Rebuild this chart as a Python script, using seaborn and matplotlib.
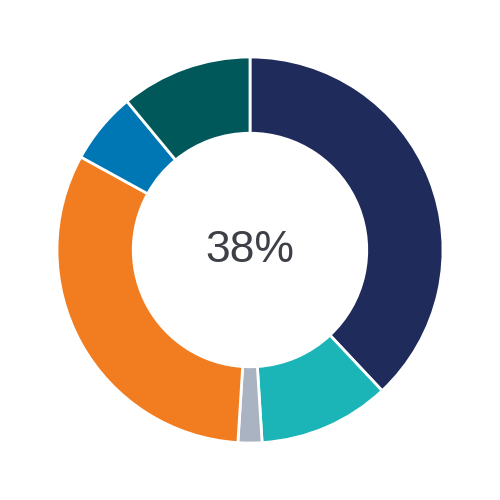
import matplotlib
matplotlib.use("Agg")
import matplotlib.pyplot as plt
import seaborn as sns

# segments, clockwise from 12 o'clock
labels = ["Navy", "Teal", "Gray", "Orange", "Blue", "Green"]
shares = [38, 11, 2, 32, 6, 11]
colors = ["#1e2b5b", "#1cb5b7", "#a9b3c1", "#f17d20", "#0077b5", "#00585a"]
center_label = "38%"

sns.set_style("white")
plt.rcParams["font.family"] = ["Liberation Sans", "DejaVu Sans"]

fig = plt.figure(figsize=(5, 5), dpi=100)
ax = fig.add_axes([0, 0, 1, 1])

palette = sns.color_palette(colors)
ax.pie(
    shares,
    colors=palette,
    startangle=90,
    counterclock=False,
    radius=1,
    wedgeprops={"width": 0.395, "edgecolor": "white", "linewidth": 2.0},
)
ax.text(0, 0.0, center_label, ha="center", va="center",
        fontsize=32, color="#3d4047")

lim = 250 / 193
ax.set_xlim(-lim, lim)
ax.set_ylim(-lim, lim)
ax.set_aspect("equal")
ax.axis("off")

fig.savefig("out.png", dpi=100, facecolor="white")
